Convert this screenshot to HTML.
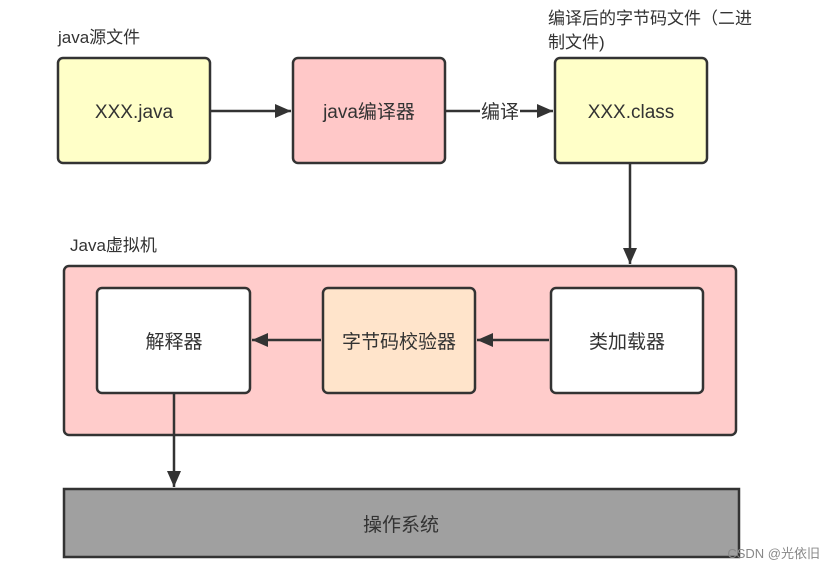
<!DOCTYPE html>
<html><head><meta charset="utf-8"><style>
html,body{margin:0;padding:0;background:#fff}
svg{display:block}
text{font-family:"Liberation Sans","Noto Sans CJK SC",sans-serif;fill:#333}
</style></head><body>
<svg width="830" height="573" viewBox="0 0 830 573" xmlns="http://www.w3.org/2000/svg">
<defs>
<marker id="b" markerWidth="16" markerHeight="14" refX="16" refY="7" orient="auto" markerUnits="userSpaceOnUse"><path d="M0,0 L16,7 L0,14 Z" fill="#333"/></marker></defs>
<g stroke="#333" stroke-width="2.5">
<rect x="58" y="58" width="152" height="105" rx="5" fill="#ffffc8"/>
<rect x="293" y="58" width="152" height="105" rx="5" fill="#ffc8c8"/>
<rect x="555" y="58" width="152" height="105" rx="5" fill="#ffffc8"/>
<rect x="64" y="266" width="672" height="169" rx="5" fill="#ffcccb"/>
<rect x="97" y="288" width="153" height="105" rx="5" fill="#fff"/>
<rect x="323" y="288" width="152" height="105" rx="5" fill="#ffe4cb"/>
<rect x="551" y="288" width="152" height="105" rx="5" fill="#fff"/>
<rect x="64" y="489" width="675" height="68" fill="#a0a0a0"/>
<line x1="211" y1="111" x2="291" y2="111" marker-end="url(#b)"/>
<line x1="446" y1="111" x2="480" y2="111"/>
<line x1="520" y1="111" x2="553" y2="111" marker-end="url(#b)"/>
<line x1="630" y1="164" x2="630" y2="264" marker-end="url(#b)"/>
<line x1="549" y1="340" x2="477" y2="340" marker-end="url(#b)"/>
<line x1="321" y1="340" x2="252" y2="340" marker-end="url(#b)"/>
<line x1="174" y1="394" x2="174" y2="487" marker-end="url(#b)"/>
</g>
<g font-size="19" text-anchor="middle">
<text x="134" y="118">XXX.java</text>
<text x="369" y="118">java编译器</text>
<text x="500" y="118">编译</text>
<text x="631" y="118">XXX.class</text>
<text x="174" y="348">解释器</text>
<text x="399" y="348">字节码校验器</text>
<text x="627" y="348">类加载器</text>
<text x="401" y="531">操作系统</text>
</g>
<g font-size="17">
<text x="58" y="43">java源文件</text>
<text x="548" y="24">编译后的字节码文件（二进</text>
<text x="548" y="48">制文件)</text>
<text x="70" y="251">Java虚拟机</text>
</g>
<text x="820" y="558" font-size="13" text-anchor="end" style="fill:#888">CSDN @光依旧</text>
</svg>
</body></html>
